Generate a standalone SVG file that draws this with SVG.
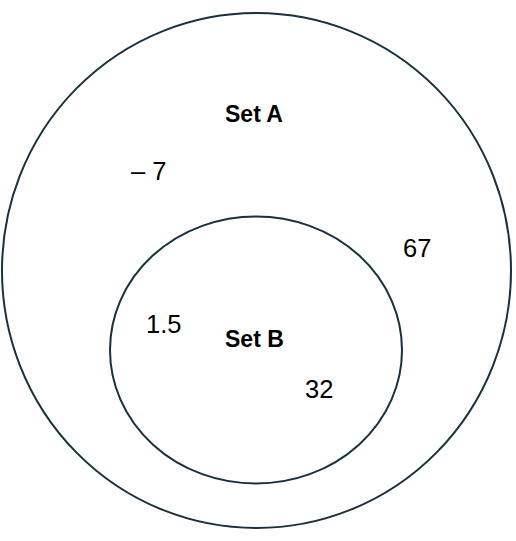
<svg xmlns="http://www.w3.org/2000/svg" width="516" height="541" viewBox="0 0 516 541">
<style>
.set{fill:none;stroke:#17313f;stroke-width:2}
.lbl{font-family:"Liberation Sans",Arial,sans-serif;font-weight:bold;font-size:23px;fill:#000}
.num{font-family:"Liberation Sans",Arial,sans-serif;font-size:25.5px;fill:#000}
</style>
<rect width="516" height="541" fill="#fff"/>
<g id="setA">
<ellipse class="set" cx="256.5" cy="270.5" rx="254.5" ry="257.5"/>
<text class="lbl" x="225" y="122">Set A</text>
</g>
<g id="setB">
<ellipse class="set" cx="256" cy="350" rx="146" ry="133.5"/>
<text class="lbl" x="225" y="347">Set B</text>
</g>
<g id="elements">
<text class="num" x="131" y="180">– 7</text>
<text class="num" x="403" y="257">67</text>
<text class="num" x="146" y="333">1.5</text>
<text class="num" x="305" y="398">32</text>
</g>
<g id="connectors"/>
</svg>
